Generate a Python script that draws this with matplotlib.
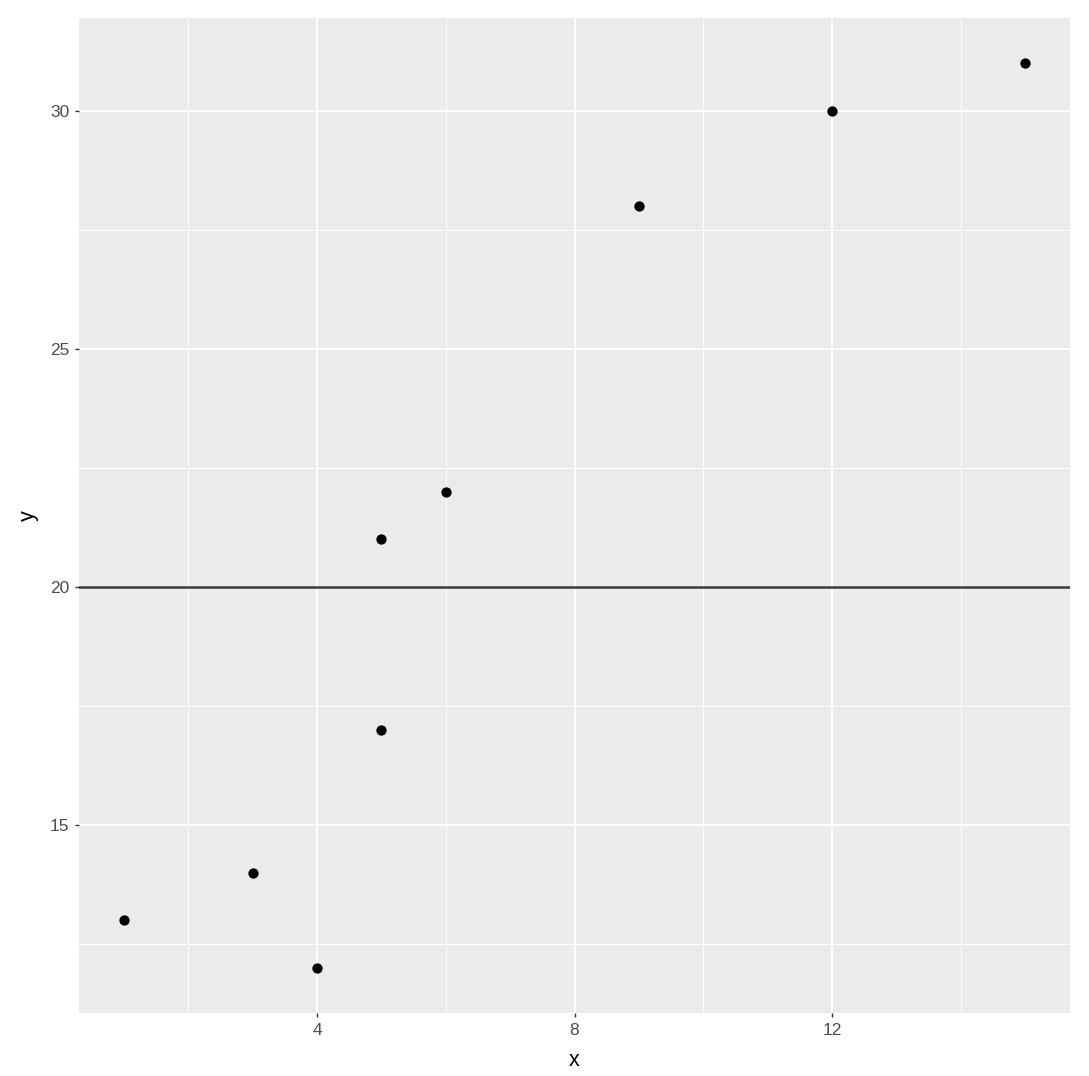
import matplotlib
matplotlib.use("Agg")
import matplotlib.pyplot as plt

plt.rcParams['font.family'] = ['Liberation Sans', 'DejaVu Sans']

x = [1, 3, 4, 5, 5, 6, 9, 12, 15]
y = [13, 14, 12, 17, 21, 22, 28, 30, 31]
hline_y = 20
x_major = [4, 8, 12]
x_minor = [2, 6, 10, 14]
y_major = [15, 20, 25, 30]
y_minor = [12.5, 17.5, 22.5, 27.5]

W, H = 1089, 1076
fig = plt.figure(figsize=(W / 100, H / 100), dpi=100)
ax = fig.add_axes([79 / W, (H - 1013) / H, (1070 - 79) / W, (1013 - 18) / H])
ax.set_facecolor("#EBEBEB")
for s in ax.spines.values():
    s.set_visible(False)

xr = max(x) - min(x)
yr = max(y) - min(y)
ax.set_xlim(min(x) - 0.05 * xr, max(x) + 0.05 * xr)
ax.set_ylim(min(y) - 0.05 * yr, max(y) + 0.05 * yr)

for v in x_minor:
    ax.axvline(v, color="white", lw=0.7, zorder=0.5)
for v in y_minor:
    ax.axhline(v, color="white", lw=0.7, zorder=0.5)
for v in x_major:
    ax.axvline(v, color="white", lw=1.4, zorder=0.6)
for v in y_major:
    ax.axhline(v, color="white", lw=1.4, zorder=0.6)

ax.axhline(hline_y, color="#3A3A3A", lw=1.8, zorder=2)
ax.scatter(x, y, s=55, color="black", zorder=3, linewidths=0)

ax.set_xticks(x_major)
ax.set_yticks(y_major)
ax.set_xticklabels([str(v) for v in x_major])
ax.set_yticklabels([str(v) for v in y_major])
ax.tick_params(axis="both", colors="#333333", labelcolor="#4D4D4D", labelsize=12.5,
               length=2.8, width=1, direction="out", pad=4.3)
ax.set_xlabel("x", fontsize=15.5, color="black", labelpad=9)
ax.set_ylabel("y", fontsize=15.5, color="black", labelpad=8)

fig.savefig("out.png", dpi=100, facecolor="white")
